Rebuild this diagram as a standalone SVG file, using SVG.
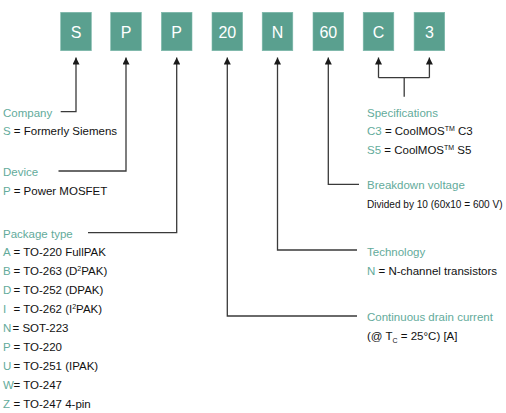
<svg xmlns="http://www.w3.org/2000/svg" width="506" height="413" viewBox="0 0 506 413">
<defs>
<style>
.box{fill:#5aa08f;stroke:#7cb8aa;stroke-width:0.6}
.bt{font-family:"Liberation Sans",Arial,sans-serif;font-size:16px;fill:#ffffff;text-anchor:middle}
.t{font-family:"Liberation Sans",Arial,sans-serif;font-size:11.5px;fill:#111111}
.h{fill:#63ab9b}
.ln{fill:none;stroke:#3a3a3a;stroke-width:1.3}
</style>
<marker id="ah" viewBox="0 0 10 10" refX="10" refY="5" markerWidth="9" markerHeight="7" markerUnits="userSpaceOnUse" orient="auto">
<path d="M0,0 L10,5 L0,10 z" fill="#1a1a1a"/>
</marker>
</defs>
<rect width="506" height="413" fill="#ffffff"/>
<g id="node-S"><rect class="box" x="60.7" y="12.3" width="30.6" height="38.4"/><text class="bt" x="76" y="37.5">S</text></g>
<g id="node-P1"><rect class="box" x="110.7" y="12.3" width="30.6" height="38.4"/><text class="bt" x="126" y="37.5">P</text></g>
<g id="node-P2"><rect class="box" x="161.4" y="12.3" width="30.6" height="38.4"/><text class="bt" x="176.7" y="37.5">P</text></g>
<g id="node-20"><rect class="box" x="212" y="12.3" width="30.6" height="38.4"/><text class="bt" x="227.3" y="37.5">20</text></g>
<g id="node-N"><rect class="box" x="262.2" y="12.3" width="30.6" height="38.4"/><text class="bt" x="277.5" y="37.5">N</text></g>
<g id="node-60"><rect class="box" x="313" y="12.3" width="30.6" height="38.4"/><text class="bt" x="328.3" y="37.5">60</text></g>
<g id="node-C"><rect class="box" x="363.2" y="12.3" width="30.6" height="38.4"/><text class="bt" x="378.5" y="37.5">C</text></g>
<g id="node-3"><rect class="box" x="414.1" y="12.3" width="30.6" height="38.4"/><text class="bt" x="429.4" y="37.5">3</text></g>
<g id="connectors">
<path class="ln" d="M60.7,111.7 H76 V57.5" marker-end="url(#ah)"/>
<path class="ln" d="M58.5,171 H126 V57.5" marker-end="url(#ah)"/>
<path class="ln" d="M88,232.7 H176.7 V57.5" marker-end="url(#ah)"/>
<path class="ln" d="M357,316 H227.3 V57.5" marker-end="url(#ah)"/>
<path class="ln" d="M357,250 H277.5 V57.5" marker-end="url(#ah)"/>
<path class="ln" d="M359,184.3 H328.3 V57.5" marker-end="url(#ah)"/>
<path class="ln" d="M378.5,77.7 V57.5" marker-end="url(#ah)"/>
<path class="ln" d="M429.4,77.7 V57.5" marker-end="url(#ah)"/>
<path class="ln" d="M378.5,77.7 H429.4 M404.2,77.7 V96.7"/>
</g>
<g id="company">
<text class="t h" x="3" y="116.5">Company</text>
<text class="t" x="3" y="135"><tspan class="h">S</tspan> = Formerly Siemens</text>
</g>
<g id="device">
<text class="t h" x="3" y="176">Device</text>
<text class="t" x="3" y="194.5"><tspan class="h">P</tspan> = Power MOSFET</text>
</g>
<g id="package">
<text class="t h" x="3" y="237.5">Package type</text>
<text class="t h" x="3" y="256">A</text><text class="t" x="13.5" y="256">= TO-220 FullPAK</text>
<text class="t h" x="3" y="275">B</text><text class="t" x="13.5" y="275">= TO-263 (D<tspan font-size="7" dy="-4">2</tspan><tspan dy="4">PAK)</tspan></text>
<text class="t h" x="3" y="294">D</text><text class="t" x="13.5" y="294">= TO-252 (DPAK)</text>
<text class="t h" x="3" y="313">I</text><text class="t" x="13.5" y="313">= TO-262 (I<tspan font-size="7" dy="-4">2</tspan><tspan dy="4">PAK)</tspan></text>
<text class="t h" x="3" y="332">N</text><text class="t" x="12.5" y="332">= SOT-223</text>
<text class="t h" x="3" y="351">P</text><text class="t" x="13.5" y="351">= TO-220</text>
<text class="t h" x="3" y="370">U</text><text class="t" x="13.5" y="370">= TO-251 (IPAK)</text>
<text class="t h" x="3" y="389">W</text><text class="t" x="13.5" y="389">= TO-247</text>
<text class="t h" x="3" y="408">Z</text><text class="t" x="13.5" y="408">= TO-247 4-pin</text>
</g>
<g id="specifications">
<text class="t h" x="367" y="116.5">Specifications</text>
<text class="t" x="367" y="135"><tspan class="h">C3</tspan> = CoolMOS<tspan font-size="7" dy="-4">TM</tspan><tspan dy="4"> C3</tspan></text>
<text class="t" x="367" y="153.5"><tspan class="h">S5</tspan> = CoolMOS<tspan font-size="7" dy="-4">TM</tspan><tspan dy="4"> S5</tspan></text>
</g>
<g id="breakdown">
<text class="t h" x="367" y="189">Breakdown voltage</text>
<text class="t" transform="translate(367,207.5) scale(0.875,1)" x="0" y="0">Divided by 10 (60x10 = 600 V)</text>
</g>
<g id="technology">
<text class="t h" x="367" y="256">Technology</text>
<text class="t" x="367" y="275"><tspan class="h">N</tspan> = N-channel transistors</text>
</g>
<g id="current">
<text class="t h" x="367" y="321">Continuous drain current</text>
<text class="t" x="367" y="340">(@ T<tspan font-size="7" dy="3">C</tspan><tspan dy="-3"> = 25°C) [A]</tspan></text>
</g>
</svg>
